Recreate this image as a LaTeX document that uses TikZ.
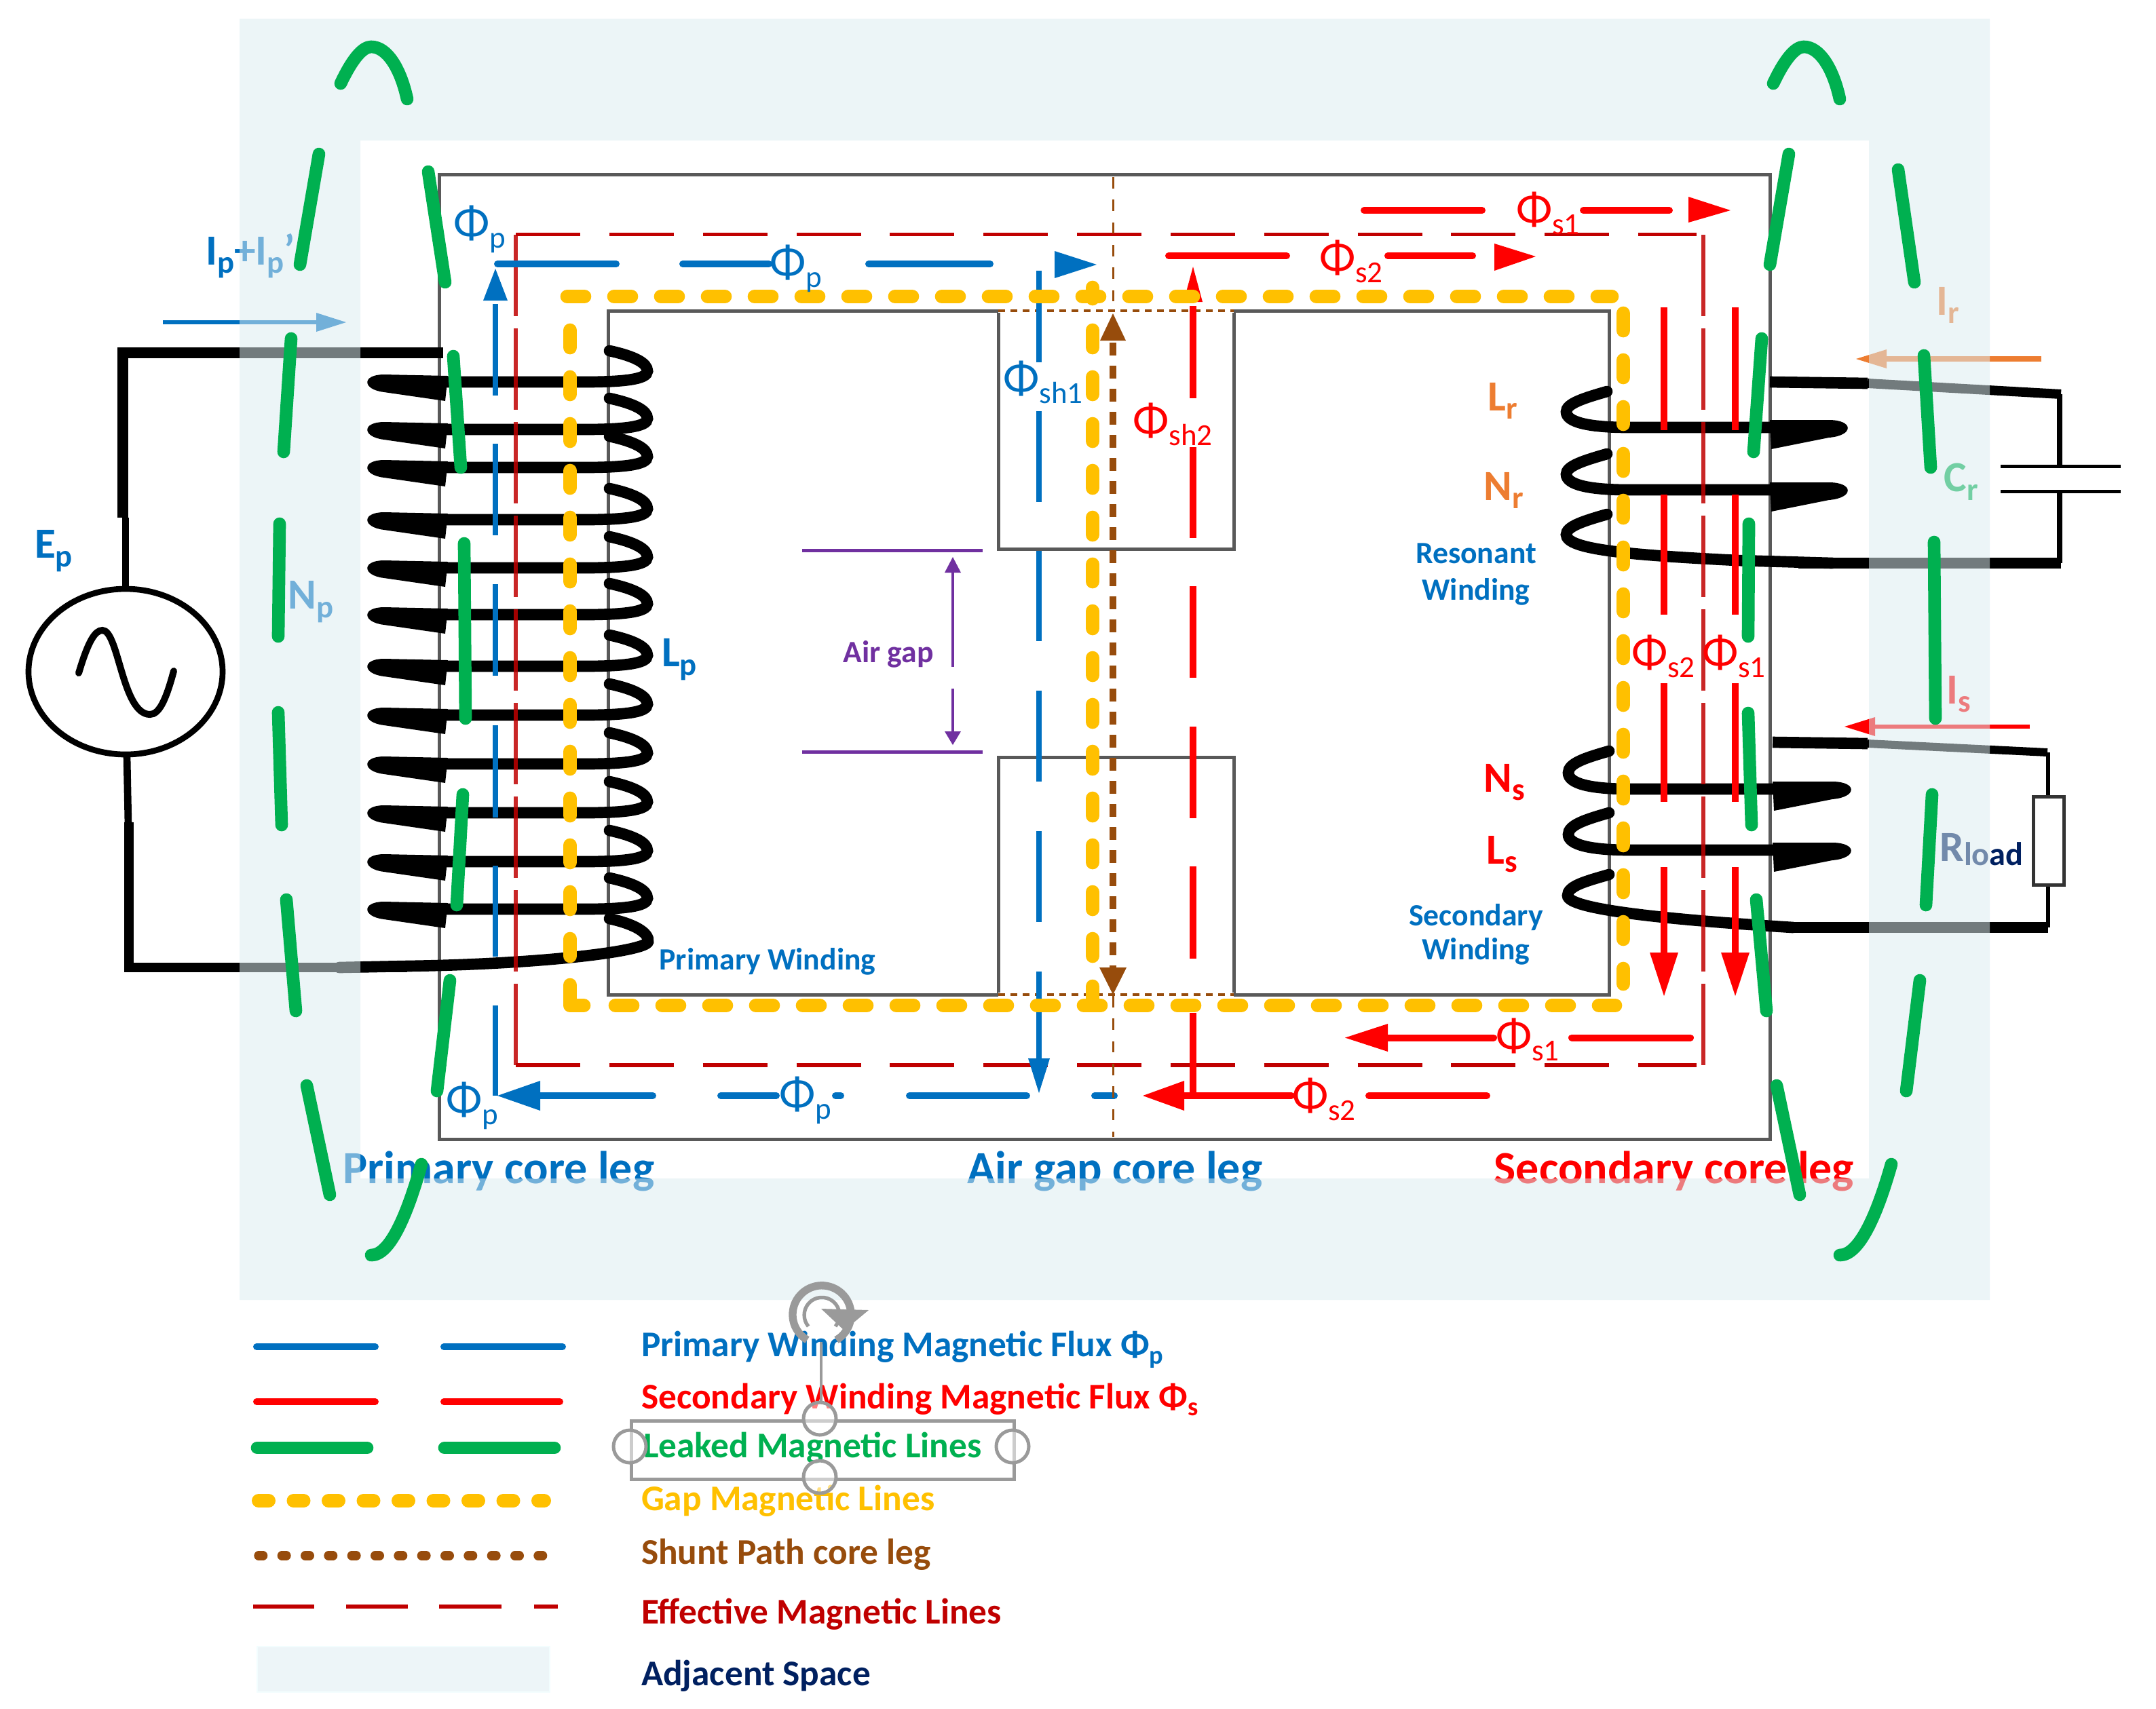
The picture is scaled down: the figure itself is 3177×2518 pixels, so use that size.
\documentclass[tikz,border=0pt]{standalone}
\usepackage{fontspec}
\setmainfont{Carlito}
\usetikzlibrary{calc}
\definecolor{bluef}{HTML}{0070C0}
\definecolor{redf}{HTML}{FF0000}
\definecolor{greenf}{HTML}{00B050}
\definecolor{yellowf}{HTML}{FFC000}
\definecolor{brownf}{HTML}{974C0C}
\definecolor{efff}{HTML}{C00000}
\definecolor{purplef}{HTML}{7030A0}
\definecolor{orangef}{HTML}{ED7D31}
\definecolor{navyf}{HTML}{002060}
\definecolor{corec}{HTML}{595959}
\definecolor{bandc}{HTML}{DCECF1}
\definecolor{bandl}{HTML}{EDF5F8}
\definecolor{handlec}{HTML}{9A9A9A}
\newcommand{\labB}[2]{{\fontsize{19}{20}\selectfont\bfseries #1\raisebox{-0.2em}{\fontsize{14}{14}\selectfont #2}}}
\newcommand{\labP}[1]{{\fontsize{21}{22}\selectfont Φ\raisebox{-0.2em}{\fontsize{13.5}{14}\selectfont #1}}}
\newcommand{\labG}[1]{{\fontsize{16}{18}\selectfont\bfseries #1}}
\newcommand{\labW}[1]{{\fontsize{13.7}{15}\selectfont\bfseries #1}}
\newcommand{\labC}[1]{{\fontsize{20.4}{22}\selectfont\bfseries #1}}
\tikzset{
  coreline/.style={line width=1.5pt,draw=corec,line join=miter},
  wire/.style={line width=5pt,draw=black,line join=miter},
  coilw/.style={line width=5pt,draw=black,line cap=round},
  thinb/.style={line width=2.4pt,draw=bluef},
  thinr/.style={line width=3pt,draw=redf},
  thickb/.style={line width=3pt,draw=bluef,line cap=round},
  thickr/.style={line width=3pt,draw=redf,line cap=round},
  greenl/.style={line width=5.6pt,draw=greenf,line cap=round},
  yel/.style={line width=6.2pt,draw=yellowf,line cap=round,dash pattern=on 7.5pt off 13.2pt},
  effh/.style={line width=1.6pt,draw=efff,dash pattern=on 28.5pt off 12.85pt},
  effv/.style={line width=1.6pt,draw=efff,opacity=.85,dash pattern=on 36pt off 5.4pt},
  txt/.style={inner sep=0pt,outer sep=0pt,anchor=center},
  lgt/.style={inner sep=0pt,outer sep=0pt,anchor=west},
  handle/.style={draw=handlec,line width=1.5pt}
}
\begin{document}
\begin{tikzpicture}[x=0.3pt,y=-0.3pt]
\useasboundingbox (0,0) rectangle (3177,2518);
\fill[white] (0,0) rectangle (3177,2518);
% ---- core
\draw[coreline] (647.5,257) rectangle (2608,1679);
\draw[coreline] (1471,458) -- (896,458) -- (896,1466) -- (1471,1466) -- (1471,1116) -- (1818,1116) -- (1818,1466) -- (2371,1466) -- (2371,458) -- (1818,458) -- (1818,809) -- (1471,809) -- cycle;
\draw[white,line width=2pt] (1471,458) -- (1818,458) (1471,1466) -- (1818,1466);
\draw[brownf,line width=1.1pt,dash pattern=on 3pt off 2.4pt] (1471,458) -- (1818,458);
\draw[brownf,line width=1.1pt,dash pattern=on 3pt off 2.4pt] (1471,1466) -- (1818,1466);
% ---- source
\draw[line width=2.6pt,black] (185,990) ellipse [x radius=143,y radius=122];
\draw[line width=3pt,line cap=round] (116,992) .. controls (130,945) and (140,929) .. (151,929) .. controls (175,929) and (180,1053) .. (221,1053) .. controls (235,1053) and (245,1030) .. (256,989);
% ---- left wires and coil
\draw[wire] (653,520) -- (181,520) -- (181,763);
\draw[line width=3pt] (185,763) -- (185,867);
\draw[line width=3.2pt] (187,1114) -- (189,1215);
\draw[wire,line width=4.4pt] (190,1212) -- (190,1426) -- (600,1426);
\foreach \y in {563,633,689,766,837,906,982,1054,1126,1198,1270,1340}{
  \draw[coilw] (898,\y-46) .. controls (935,\y-38) and (954,\y-28) .. (954,\y-16) .. controls (954,\y-4) and (920,\y) .. (860,\y) -- (570,\y);
  \fill[black] (660,\y-9) -- (566,\y-11) .. controls (533,\y-11) and (533,\y+11) .. (566,\y+15) -- (656,\y+28) -- cycle;
}
\draw[coilw] (898,1354) .. controls (935,1362) and (957,1375) .. (955,1388) .. controls (952,1402) and (800,1421) .. (600,1424) -- (500,1426);
% ---- right wires and coils
\draw[wire] (2608,563) -- (2752,565);
\draw[line width=4.2pt] (2752,565) -- (3037,581);
\draw[line width=2.2pt] (3035,581) -- (3035,687);
\draw[line width=2.2pt] (3035,724) -- (3035,830);
\draw[line width=5pt] (2650,830) -- (3037,830);
\draw[line width=1.5pt] (2948,687) -- (3125,687) (2948,724) -- (3125,724);
\foreach \yh/\yb in {577/630,669/722}{
  \draw[coilw] (2368,\yh) .. controls (2333,\yh+10) and (2308,\yh+18) .. (2308,\yh+30) .. controls (2308,\yb-8) and (2340,\yb) .. (2400,\yb) -- (2690,\yb);
  \fill[black] (2608,\yb-11) -- (2695,\yb-11) .. controls (2732,\yb-11) and (2732,\yb+12) .. (2695,\yb+15) -- (2610,\yb+32) -- cycle;
}
\draw[coilw] (2368,758) .. controls (2333,768) and (2308,776) .. (2308,788) .. controls (2308,810) and (2400,818) .. (2560,826) -- (2700,830);
\draw[wire] (2612,1094) -- (2752,1096);
\draw[line width=3.6pt] (2752,1096) -- (3017,1109);
\draw[line width=1.6pt] (3018,1109) -- (3018,1367);
\draw[line width=5pt] (2642,1367) -- (3018,1367);
\foreach \yh/\yb in {1107/1163,1198/1253}{
  \draw[coilw] (2371,\yh) .. controls (2336,\yh+10) and (2311,\yh+18) .. (2311,\yh+32) .. controls (2311,\yb-8) and (2343,\yb) .. (2403,\yb) -- (2695,\yb);
  \fill[black] (2612,\yb-11) -- (2700,\yb-11) .. controls (2737,\yb-11) and (2737,\yb+12) .. (2700,\yb+15) -- (2614,\yb+32) -- cycle;
}
\draw[coilw] (2371,1289) .. controls (2336,1299) and (2310,1306) .. (2310,1320) .. controls (2310,1340) and (2450,1355) .. (2642,1367);
\draw[fill=white,draw=black!80,line width=1.5pt] (2996,1174) rectangle (3041,1304);
% ---- labels that lie under the band
\node[txt,text=bluef] (tIp) at (369,377) {\labB{I}{p}\labB{+I}{p}\labB{’}{}};
\node[txt,text=bluef] (tNp) at (458,887) {\labB{N}{p}};
\node[txt,text=greenf] (tCr) at (2890,710) {\labB{C}{r}};
\node[txt,text=orangef] (tIr) at (2870,450) {\labB{I}{r}};
\node[txt,text=redf] (tIs) at (2886,1023) {\labB{I}{s}};
\node[txt,text=navyf] (tRl) at (2920,1252) {{\fontsize{19}{20}\selectfont\bfseries R\raisebox{-0.1em}{\fontsize{14.5}{14}\selectfont load}}};
\node[txt,text=bluef] (tPc) at (735,1726) {\labC{Primary core leg}};
\node[txt,text=redf] (tSc) at (2467,1726) {\labC{Secondary core leg}};
\node[txt,text=bluef] (tAc) at (1643,1726) {\labC{Air gap core leg}};
% ---- current arrows
\draw[bluef,line width=1.8pt] (240,475) -- (470,475);
\fill[bluef] (510,475) -- (466,461) -- (466,489) -- cycle;
\draw[orangef,line width=2.4pt] (3008,529) -- (2775,529);
\fill[orangef] (2735,529) -- (2780,515) -- (2780,543) -- cycle;
\draw[redf,line width=2pt] (2991,1071) -- (2760,1071);
\fill[redf] (2718,1071) -- (2763,1057) -- (2763,1085) -- cycle;
% ---- band overlay
\fill[bandc,opacity=.52,even odd rule] (353,27.5) rectangle (2932,1916) (531,207) rectangle (2754,1737);
% ---- effective lines
\draw[effh] (760,345.5) -- (2500,345.5);
\draw[effh] (760,1570) -- (2500,1570);
\draw[effv] (760,346) -- (760,1570);
\draw[effv] (2510,346) -- (2510,1570);
% ---- blue flux
\draw[thickb] (733,389) -- (908,389);
\draw[thickb] (1006,389) -- (1133,389);
\draw[thickb] (1280,389) -- (1459,389);
\fill[bluef] (1616,390) -- (1554,370) -- (1554,410) -- cycle;
\fill[bluef] (730,396) -- (712,443) -- (748,443) -- cycle;
\foreach \a/\b in {448/583,654/789,861/996,1069/1205,1276/1410,1482/1615}{\draw[thinb] (730,\a) -- (730,\b);}
\foreach \a/\b in {399/534,606/740,812/945,1018/1152,1225/1359,1432/1565}{\draw[thinb] (1531,\a) -- (1531,\b);}
\fill[bluef] (1531,1611) -- (1515,1560) -- (1547,1560) -- cycle;
\fill[bluef] (733,1615) -- (796,1593) -- (796,1637) -- cycle;
\draw[thickb] (796,1615) -- (962,1615);
\draw[thickb] (1062,1615) -- (1144,1615);
\draw[thickb] (1231,1615) -- (1239,1615);
\draw[thickb] (1340,1615) -- (1513,1615);
\draw[thickb] (1613,1615) -- (1642,1615);
% ---- red flux
\draw[thickr] (2010,310) -- (2184,310);
\draw[thickr] (2333,310) -- (2460,310);
\fill[redf] (2550,310) -- (2488,290) -- (2488,328) -- cycle;
\draw[thickr] (1722,377) -- (1896,377);
\draw[thickr] (2045,377) -- (2170,377);
\fill[redf] (2263,378) -- (2202,359) -- (2202,399) -- cycle;
\fill[redf] (1758,393) -- (1744,445) -- (1772,445) -- cycle;
\foreach \a/\b in {451/587,659/793,864/999,1071/1206,1277/1413,1493/1615}{\draw[thinr] (1758,\a) -- (1758,\b);}
\fill[redf] (1982,1529.5) -- (2045,1509) -- (2045,1550) -- cycle;
\draw[thickr] (2045,1529.5) -- (2201,1529.5);
\draw[thickr] (2316,1529.5) -- (2491,1529.5);
\fill[redf] (1684,1615) -- (1745,1593) -- (1745,1637) -- cycle;
\draw[thickr] (1745,1615) -- (1903,1615);
\draw[thickr] (2017,1615) -- (2191,1615);
\foreach \x in {2452,2557}{
  \foreach \a/\b in {453/634,729/906,1007/1182,1278/1410}{\draw[thinr] (\x,\a) -- (\x,\b);}
  \fill[redf] (\x,1468) -- (\x-21,1404) -- (\x+21,1404) -- cycle;
}
% ---- gap lines
\draw[yel] (836,437) -- (2375,437);
\draw[yel] (840,487) -- (840,1420);
\draw[yel,dash pattern=on 100pt off 100pt,line join=round] (840,1452) -- (840,1482) -- (860,1482);
\draw[yel] (907,1482) -- (2380,1482);
\draw[yel] (2392,462) -- (2392,1450);
\draw[yel] (1610,487) -- (1610,1440);
\draw[yel,dash pattern=on 100pt off 100pt] (1610,424) -- (1610,440);
\draw[yel,dash pattern=on 100pt off 100pt] (1610,1454) -- (1610,1472);
% ---- shunt path
\draw[brownf,line width=0.9pt,dash pattern=on 5pt off 5pt] (1640,261) -- (1640,458);
\draw[brownf,line width=0.9pt,dash pattern=on 5pt off 5pt] (1640,1468) -- (1640,1676);
\draw[brownf,line width=3.2pt,dash pattern=on 5.8pt off 4.4pt] (1640,505) -- (1640,1426);
\fill[brownf] (1640,462) -- (1621,502) -- (1659,502) -- cycle;
\fill[brownf] (1640,1466) -- (1620,1426) -- (1660,1426) -- cycle;
% ---- air gap
\draw[purplef,line width=1.5pt] (1182,811) -- (1448,811);
\draw[purplef,line width=1.5pt] (1182,1108) -- (1448,1108);
\draw[purplef,line width=1.2pt] (1404,844) -- (1404,983);
\draw[purplef,line width=1.2pt] (1404,1015) -- (1404,1080);
\fill[purplef] (1404,821) -- (1392,844) -- (1416,844) -- cycle;
\fill[purplef] (1404,1098) -- (1392,1078) -- (1416,1078) -- cycle;
\node[txt,text=purplef] (tAg) at (1309,964) {\labW{Air gap}};
% ---- labels
\node[txt,text=bluef] (tEp) at (79,812) {\labB{E}{p}};
\node[txt,text=bluef] (tLp) at (1001,972) {\labB{L}{p}};
\node[txt,text=orangef] (tLr) at (2214,591) {\labB{L}{r}};
\node[txt,text=orangef] (tNr) at (2216,723) {\labB{N}{r}};
\node[txt,text=redf] (tNs) at (2217,1153) {\labB{N}{s}};
\node[txt,text=redf] (tLs) at (2213,1259) {\labB{L}{s}};
\node[txt,text=bluef] (tPw) at (1131,1417) {\labW{Primary Winding}};
\node[txt,text=bluef] (tRw1) at (2175,816) {\labW{Resonant}};
\node[txt,text=bluef] (tRw2) at (2175,872) {\labW{Winding}};
\node[txt,text=bluef] (tSw1) at (2175,1352) {\labW{Secondary}};
\node[txt,text=bluef] (tSw2) at (2175,1402) {\labW{Winding}};
\node[txt,text=bluef] (fa) at (707,338) {\labP{p}};
\node[txt,text=bluef] (fb) at (1173,396) {\labP{p}};
\node[txt,text=redf] (fc) at (2281,314) {\labP{s1}};
\node[txt,text=redf] (fd) at (1991,385) {\labP{s2}};
\node[txt,text=bluef] (fe) at (1537,563) {\labP{sh1}};
\node[txt,text=redf] (ff) at (1728,625) {\labP{sh2}};
\node[txt,text=redf] (fg) at (2451,967) {\labP{s2}};
\node[txt,text=redf] (fh) at (2555,967) {\labP{s1}};
\node[txt,text=bluef] (fi) at (696,1630) {\labP{p}};
\node[txt,text=bluef] (fj) at (1187,1622) {\labP{p}};
\node[txt,text=redf] (fk) at (2251,1532) {\labP{s1}};
\node[txt,text=redf] (fl) at (1951,1620) {\labP{s2}};
% ---- legend
\draw[line width=3pt,draw=bluef,line cap=round] (378,1985) -- (553,1985) (654,1985) -- (829,1985);
\draw[line width=3pt,draw=redf,line cap=round] (378,2066) -- (553,2066) (654,2066) -- (825,2066);
\draw[line width=5.6pt,draw=greenf,line cap=round] (379,2134) -- (541,2134) (655,2134) -- (817,2134);
\draw[line width=6pt,draw=yellowf,line cap=round,dash pattern=on 4.5pt off 10.95pt] (381,2212) -- (802,2212);
\draw[line width=4pt,draw=brownf,line cap=round,dash pattern=on 2pt off 8.3pt] (381,2293) -- (804,2293);
\draw[line width=1.8pt,draw=efff] (373,2368) -- (463,2368) (510,2368) -- (601,2368) (647,2368) -- (739,2368) (787,2368) -- (822,2368);
\draw[fill=bandl,draw=bandl!80!cyan!20!white,line width=.8pt] (379,2427) rectangle (810,2494);
\node[lgt,text=bluef] (l1) at (945,1989) {\labG{Primary Winding Magnetic Flux Φ\raisebox{-0.2em}{\fontsize{11.5}{12}\selectfont p}}};
\node[lgt,text=redf] (l2) at (945,2063) {\labG{Secondary Winding Magnetic Flux Φ\raisebox{-0.2em}{\fontsize{11.5}{12}\selectfont s}}};
\node[lgt,text=greenf] (l3) at (948,2134) {\labG{Leaked Magnetic Lines}};
\node[lgt,text=yellowf] (l4) at (945,2212) {\labG{Gap Magnetic Lines}};
\node[lgt,text=brownf] (l5) at (945,2291) {\labG{Shunt Path core leg}};
\node[lgt,text=efff] (l6) at (945,2379) {\labG{Effective Magnetic Lines}};
\node[lgt,text=navyf] (l7) at (945,2470) {\labG{Adjacent Space}};
% ---- selection handles
\draw[handle] (930,2094) rectangle (1494,2180);
\draw[handle,line width=1pt] (1210,1978) -- (1210,2066);
\foreach \cx/\cy in {1208/2091,1208/2177,928/2132,1492/2132}{
  \draw[handle,fill=white,fill opacity=.5] (\cx,\cy) circle [radius=24];
}
\draw[handlec,line width=3.4pt] (1232.5,1975) arc (60:-240:43);
\draw[handlec,line width=1.6pt] (1231,1955) arc (40:-220:26);
\fill[handlec] (1210,1929) -- (1280,1931) -- (1244,1961) -- cycle;
% ---- leaked lines
\foreach \ox in {0,2111}{
  \draw[greenl] (\ox+502,123) .. controls (\ox+520,85) and (\ox+535,69) .. (\ox+547,69) .. controls (\ox+570,69) and (\ox+590,100) .. (\ox+600,146);
}
\draw[greenl] (470,227) -- (442,390);
\draw[greenl] (429,499) -- (418,666);
\draw[greenl] (412,772) -- (410,938);
\draw[greenl] (410,1050) -- (415,1216);
\draw[greenl] (422,1326) -- (436,1490);
\draw[greenl] (452,1600) -- (486,1761);
\draw[greenl] (621,1716) .. controls (600,1790) and (575,1850) .. (547,1850);
\draw[greenl] (663,1445) -- (644,1608);
\draw[greenl] (682,1171) -- (673,1334);
\draw[greenl] (684,801) -- (686,1059);
\draw[greenl] (668,525) -- (679,689);
\draw[greenl] (631,253) -- (656,416);
\draw[greenl] (2636,227) -- (2608,390);
\draw[greenl] (2596,499) -- (2584,666);
\draw[greenl] (2577,772) -- (2576,938);
\draw[greenl] (2576,1051) -- (2581,1216);
\draw[greenl] (2588,1326) -- (2603,1490);
\draw[greenl] (2618,1600) -- (2652,1761);
\draw[greenl] (2797,250) -- (2821,416);
\draw[greenl] (2835,524) -- (2845,689);
\draw[greenl] (2850,799) -- (2852,1059);
\draw[greenl] (2847,1171) -- (2838,1334);
\draw[greenl] (2829,1445) -- (2809,1608);
\draw[greenl] (2787,1716) .. controls (2766,1790) and (2740,1850) .. (2711,1850);
\end{tikzpicture}
\end{document}
